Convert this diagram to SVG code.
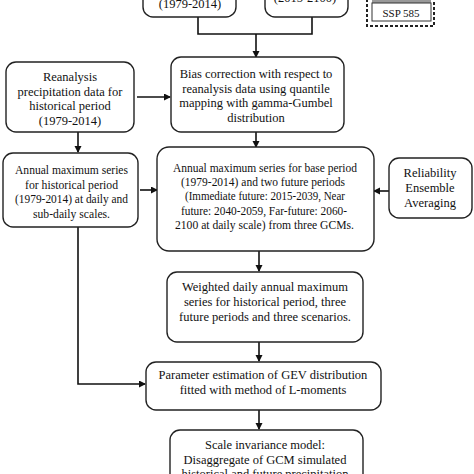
<svg xmlns="http://www.w3.org/2000/svg" width="474" height="474" viewBox="0 0 474 474">
<style>
.box{fill:#fff;stroke:#222;stroke-width:1.4}
.t{font-family:"Liberation Serif","Times New Roman",serif;font-size:12.5px;fill:#111;text-anchor:middle}
.c{fill:none;stroke:#111;stroke-width:1.6}
</style>
<defs>
<marker id="ah" markerWidth="8" markerHeight="8" refX="6" refY="3.5" orient="auto" markerUnits="userSpaceOnUse">
<path d="M0,0 L7,3.5 L0,7 Z" fill="#111"/>
</marker>
</defs>
<rect width="474" height="474" fill="#fff"/>

<g id="connectors">
<path class="c" d="M198,17 V34 H312 V17"/>
<path class="c" d="M256,34 V57" marker-end="url(#ah)"/>
<path class="c" d="M137,97 H170" marker-end="url(#ah)"/>
<path class="c" d="M78,132 V152" marker-end="url(#ah)"/>
<path class="c" d="M256,132 V147" marker-end="url(#ah)"/>
<path class="c" d="M140,190 H157" marker-end="url(#ah)"/>
<path class="c" d="M389,191 H374" marker-end="url(#ah)"/>
<path class="c" d="M259,251 V271" marker-end="url(#ah)"/>
<path class="c" d="M259,342 V361" marker-end="url(#ah)"/>
<path class="c" d="M78,227 V384 H145" marker-end="url(#ah)"/>
<path class="c" d="M259,410 V429" marker-end="url(#ah)"/>
</g>

<g id="obs-top">
<rect class="box" x="143" y="-20" width="93" height="37" rx="10"/>
<text class="t" x="190" y="8">(1979-2014)</text>
</g>

<g id="gcm-top">
<rect class="box" x="265" y="-20" width="83" height="37" rx="10"/>
<text class="t" x="305" y="1.5">(2015-2100)</text>
</g>

<g id="ssp-legend">
<rect x="367" y="-6" width="67" height="32" fill="none" stroke="#222" stroke-width="2" stroke-dasharray="3,2"/>
<rect x="372" y="-2" width="59" height="5" fill="#999"/>
<rect x="372" y="3" width="59" height="18" fill="#fff" stroke="#333" stroke-width="1"/>
<text class="t" x="401" y="16.5" style="font-size:11px">SSP 585</text>
</g>

<g id="reanalysis">
<rect class="box" x="6" y="62" width="128" height="70" rx="10"/>
<text class="t" x="70" y="81">Reanalysis</text>
<text class="t" x="70" y="95.5">precipitation data for</text>
<text class="t" x="70" y="110">historical period</text>
<text class="t" x="70" y="124.5">(1979-2014)</text>
</g>

<g id="bias">
<rect class="box" x="171" y="57" width="173" height="75" rx="10"/>
<text class="t" x="256" y="78">Bias correction with respect to</text>
<text class="t" x="256" y="92.5">reanalysis data using quantile</text>
<text class="t" x="256" y="107">mapping with gamma-Gumbel</text>
<text class="t" x="256" y="121.5">distribution</text>
</g>

<g id="hist-ams">
<rect class="box" x="3" y="153" width="135" height="74" rx="10"/>
<text class="t" x="71.5" y="174" textLength="113" lengthAdjust="spacingAndGlyphs">Annual maximum series</text>
<text class="t" x="71.5" y="189" textLength="93" lengthAdjust="spacingAndGlyphs">for historical period</text>
<text class="t" x="71.5" y="203" textLength="113" lengthAdjust="spacingAndGlyphs">(1979-2014) at daily and</text>
<text class="t" x="71.5" y="218" textLength="77" lengthAdjust="spacingAndGlyphs">sub-daily scales.</text>
</g>

<g id="future-ams">
<rect class="box" x="157" y="147" width="217" height="104" rx="12"/>
<text class="t" x="265" y="171.5" textLength="184" lengthAdjust="spacingAndGlyphs">Annual maximum series for base period</text>
<text class="t" x="263" y="185.5" textLength="164" lengthAdjust="spacingAndGlyphs">(1979-2014) and two future periods</text>
<text class="t" x="265" y="200" textLength="160" lengthAdjust="spacingAndGlyphs">(Immediate future: 2015-2039, Near</text>
<text class="t" x="264" y="214.5" textLength="166" lengthAdjust="spacingAndGlyphs">future: 2040-2059, Far-future: 2060-</text>
<text class="t" x="264.5" y="229" textLength="179" lengthAdjust="spacingAndGlyphs">2100 at daily scale) from three GCMs.</text>
</g>

<g id="rea">
<rect class="box" x="389" y="158" width="83" height="60" rx="10"/>
<text class="t" x="430" y="177">Reliability</text>
<text class="t" x="430" y="192">Ensemble</text>
<text class="t" x="430" y="207">Averaging</text>
</g>

<g id="weighted">
<rect class="box" x="167" y="272" width="196" height="70" rx="10"/>
<text class="t" x="265" y="291">Weighted daily annual maximum</text>
<text class="t" x="265" y="306">series for historical period, three</text>
<text class="t" x="265" y="321">future periods and three scenarios.</text>
</g>

<g id="gev">
<rect class="box" x="146" y="362" width="235" height="48" rx="10"/>
<text class="t" x="263" y="379">Parameter estimation of GEV distribution</text>
<text class="t" x="263" y="394">fitted with method of L-moments</text>
</g>

<g id="scale">
<rect class="box" x="170" y="430" width="193" height="70" rx="10"/>
<text class="t" x="265" y="449">Scale invariance model:</text>
<text class="t" x="265" y="464">Disaggregate of GCM simulated</text>
<text class="t" x="265" y="478">historical and future precipitation</text>
</g>
</svg>
